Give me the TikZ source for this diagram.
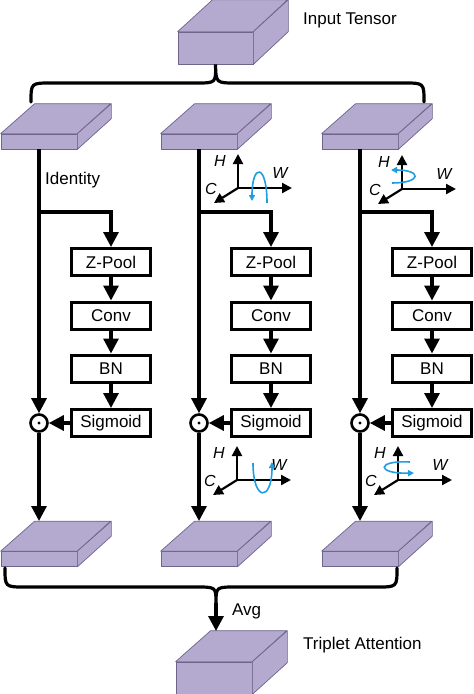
\documentclass[tikz,border=0pt]{standalone}
\usepackage{fontspec}
\setmainfont{Liberation Sans}
\usetikzlibrary{positioning,calc,arrows.meta}

\definecolor{slabfill}{RGB}{180,169,206}
\definecolor{slabline}{RGB}{110,100,140}
\definecolor{rotblue}{RGB}{30,158,222}

\tikzset{
	slab/.style={draw=slabline, fill=slabfill, line width=0.7pt, line join=round, inner sep=0},
	thinslab/.style={slab, minimum width=76, minimum height=15},
	blk/.style={draw, line width=3pt, minimum width=79, minimum height=27, inner sep=0},
	odot/.style={circle, draw, line width=2.6pt, minimum size=17, inner sep=0},
	arr/.style={line width=3.2pt, -{Triangle[length=15pt,width=15pt]}},
	ax/.style={line width=2.2pt, -{Triangle[length=10pt,width=10pt]}},
	rot/.style={draw=rotblue, line width=1.6pt, -{Triangle[length=6pt,width=6pt]}},
	brace/.style={line width=3.2pt, line cap=round},
	lbl/.style={anchor=west, inner sep=0},
	axlbl/.style={inner sep=0, font=\fontsize{16}{18}\selectfont\itshape}
}

\begin{document}
\begin{tikzpicture}[x=1pt, y=-1pt, font=\fontsize{17}{20}\selectfont]
	\useasboundingbox (0,0) rectangle (474,694);

	% input tensor
	\node [slab, minimum width=75, minimum height=32] (in) at (215.5,48) {};
	\draw [slab] (in.north west) -- ++(35,-32) -- ++(75,0) -- (in.north east) -- cycle;
	\draw [slab] (in.north east) -- ++(35,-32) -- ++(0,32) -- (in.south east) -- cycle;
	\node [lbl] (intxt) at (303,20) {Input Tensor};

	% split brace
	\draw [brace] (31,102) .. controls (31,83) .. (51,83) -- (196,83) .. controls (216,83) .. (in.south)
		.. controls (216,83) .. (236,83) -- (404,83) .. controls (424,83) .. (424,102);

	% three branches
	\foreach \i/\x in {1/39, 2/199, 3/360} {
		\node [thinslab] (s\i) at (\x,141.5) {};
		\draw [slab] (s\i.north west) -- ++(34,-30) -- ++(76,0) -- (s\i.north east) -- cycle;
		\draw [slab] (s\i.north east) -- ++(34,-30) -- ++(0,15) -- (s\i.south east) -- cycle;
		\node [thinslab] (o\i) at (\x,559) {};
		\draw [slab] (o\i.north west) -- ++(34,-30) -- ++(76,0) -- (o\i.north east) -- cycle;
		\draw [slab] (o\i.north east) -- ++(34,-30) -- ++(0,15) -- (o\i.south east) -- cycle;

		\node [blk] (z\i) at ({\x+72},262) {Z-Pool};
		\node [blk] (c\i) at ({\x+72},315.5) {Conv};
		\node [blk] (b\i) at ({\x+72},368.5) {BN};
		\node [blk] (g\i) at ({\x+72},423) {Sigmoid};
		\node [odot] (m\i) at (\x,423) {};
		\fill (m\i) circle (1.7);
		\coordinate (j\i) at (\x,212);
		\coordinate (t\i) at (\x,521);

		\draw [arr] (s\i.south) -- (m\i.north);
		\draw [arr] (j\i) -| (z\i.north);
		\draw [arr] (z\i) -- (c\i);
		\draw [arr] (c\i) -- (b\i);
		\draw [arr] (b\i) -- (g\i);
		\draw [arr] (g\i.west) -- (m\i.east);
		\draw [arr] (m\i.south) -- (t\i);
	}
	\node [lbl] (idtxt) at (45,180) {Identity};

	% axes
	\foreach \n/\x/\y in {ta2/238/188, ta3/402/189, ba2/237/480, ba3/398/480} {
		\coordinate (\n) at (\x,\y);
		\draw [ax] (\n) -- ++(0,-34);
		\draw [ax] (\n) -- ++(54,0);
		\draw [ax] (\n) -- ++(-24,15);
		\node [axlbl] (\n h) at ($(\n)+(-18,-27)$) {H};
		\node [axlbl] (\n w) at ($(\n)+(42,-15)$) {W};
		\node [axlbl] (\n c) at ($(\n)+(-27,1)$) {C};
	}
	% rotations
	\draw [rot] (267,203) .. controls (267,163) and (252,163) .. (252,201);
	\draw [rot] (392,183) .. controls (422,183) and (422,170) .. (391,170);
	\draw [rot] (253,463) .. controls (253,502) and (272,502) .. (272,462);
	\draw [rot] (410,462) .. controls (376,460) and (376,474) .. (414,473);

	% merge brace
	\coordinate (bc) at (216,603);
	\draw [brace] (5,568) .. controls (5,587) .. (25,587) -- (196,587) .. controls (216,587) .. (bc)
		.. controls (216,587) .. (236,587) -- (377,587) .. controls (397,587) .. (397,568);

	% output tensor
	\node [slab, minimum width=76, minimum height=32] (out) at (214,678) {};
	\draw [slab] (out.north west) -- ++(35,-31) -- ++(76,0) -- (out.north east) -- cycle;
	\draw [slab] (out.north east) -- ++(35,-31) -- ++(0,32) -- (out.south east) -- cycle;
	\coordinate (tin) at (216,631);
	\draw [arr] (bc) -- (tin);
	\node [lbl] (avgtxt) at (232,611) {Avg};
	\node [lbl] (tatxt) at (303,645) {Triplet Attention};
\end{tikzpicture}
\end{document}
